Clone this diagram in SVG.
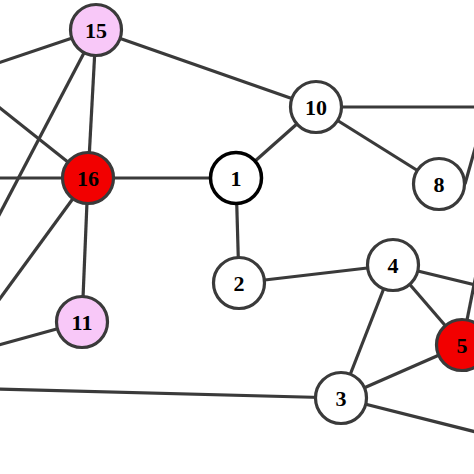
<svg xmlns="http://www.w3.org/2000/svg" width="474" height="474" viewBox="0 0 474 474">
<style>
.e{stroke:#3a3a3a;stroke-width:3.2;fill:none}
.n circle{stroke:#3a3a3a;stroke-width:3.2;fill:#fff}
.n text{font-family:"Liberation Serif","Times New Roman",serif;font-weight:bold;font-size:22px;text-anchor:middle;fill:#000}
.pink circle{fill:#f8c8f8}
.red circle{fill:#f20000}
</style>
<rect width="474" height="474" fill="#fff"/>
<g id="edges">
<line class="e" x1="96" y1="30" x2="-5" y2="64"/>
<line class="e" x1="96" y1="30" x2="316" y2="107"/>
<line class="e" x1="96" y1="30" x2="88" y2="178"/>
<line class="e" x1="96" y1="30" x2="-3" y2="219"/>
<line class="e" x1="-5" y1="104" x2="88" y2="178"/>
<line class="e" x1="-5" y1="178" x2="88" y2="178"/>
<line class="e" x1="88" y1="178" x2="-4" y2="304"/>
<line class="e" x1="88" y1="178" x2="82" y2="322"/>
<line class="e" x1="88" y1="178" x2="236" y2="178"/>
<line class="e" x1="82" y1="322" x2="-5" y2="346"/>
<line class="e" x1="-5" y1="389" x2="341" y2="398"/>
<line class="e" x1="316" y1="107" x2="480" y2="107"/>
<line class="e" x1="316" y1="107" x2="236" y2="178"/>
<line class="e" x1="316" y1="107" x2="439" y2="184"/>
<line class="e" x1="465" y1="184" x2="476" y2="145"/>
<line class="e" x1="236" y1="178" x2="239" y2="283"/>
<line class="e" x1="239" y1="283" x2="393" y2="265"/>
<line class="e" x1="393" y1="265" x2="480" y2="286"/>
<line class="e" x1="393" y1="265" x2="462" y2="345"/>
<line class="e" x1="393" y1="265" x2="341" y2="398"/>
<line class="e" x1="462" y1="345" x2="478" y2="265"/>
<line class="e" x1="462" y1="345" x2="341" y2="398"/>
<line class="e" x1="341" y1="398" x2="480" y2="433"/>
</g>
<g id="n15" class="n pink"><circle cx="96" cy="30" r="25.5"/><text x="96" y="37.5">15</text></g>
<g id="n10" class="n"><circle cx="316" cy="107" r="25.5"/><text x="316" y="114.5">10</text></g>
<g id="n16" class="n red"><circle cx="88" cy="178" r="25.5"/><text x="88" y="185.5">16</text></g>
<g id="n1" class="n"><circle cx="236" cy="178" r="25.5" style="stroke:#000;stroke-width:3.5"/><text x="236" y="185.5">1</text></g>
<g id="n8" class="n"><circle cx="439" cy="184" r="25.5"/><text x="439" y="192">8</text></g>
<g id="n2" class="n"><circle cx="239" cy="283" r="25.5"/><text x="239" y="290.5">2</text></g>
<g id="n4" class="n"><circle cx="393" cy="265" r="25.5"/><text x="393" y="272.5">4</text></g>
<g id="n11" class="n pink"><circle cx="82" cy="322" r="25.5"/><text x="82" y="329.5">11</text></g>
<g id="n5" class="n red"><circle cx="462" cy="345" r="25.5"/><text x="462" y="352.5">5</text></g>
<g id="n3" class="n"><circle cx="341" cy="398" r="25.5"/><text x="341" y="405.5">3</text></g>
</svg>
